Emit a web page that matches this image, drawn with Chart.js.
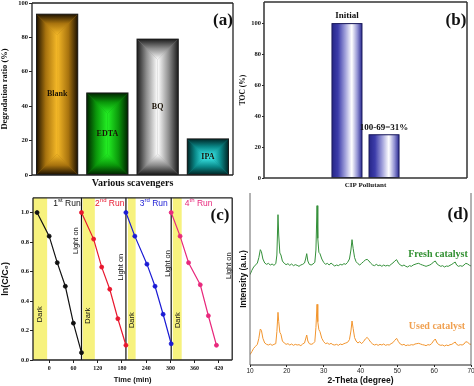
<!DOCTYPE html>
<html>
<head>
<meta charset="utf-8">
<script src="https://cdn.jsdelivr.net/npm/chart.js@4.4.1/dist/chart.umd.min.js"></script>
<style>
  body { margin: 0; background: #fff; }
  .panel { position: absolute; width: 237px; height: 193px; }
</style>
</head>
<body>
<div class="panel" style="left:0;top:0"><canvas id="scav" width="237" height="193"></canvas></div>
<div class="panel" style="left:237px;top:0"><canvas id="toc" width="237" height="193"></canvas></div>
<div class="panel" style="left:0;top:193px"><canvas id="runs" width="237" height="193"></canvas></div>
<div class="panel" style="left:237px;top:193px"><canvas id="xrd" width="237" height="193"></canvas></div>
<script>
// (a) scavenger test
const scavengers = ['Blank', 'EDTA', 'BQ', 'IPA']
const degradation = [93.5, 47.7, 79, 21]
const scavTicks = [0, 20, 40, 60, 80, 100]

// (b) TOC removal
const tocLabels = ['Initial', '100-69=31%']
const tocValues = [100, 28]
const tocTicks = [0, 20, 40, 60, 80, 100]

// (c) recycling runs
const run1Time = [-30, 0, 20, 40, 60, 80]
const run1Val = [1.0, 0.84, 0.66, 0.50, 0.25, 0.05]
const run2Time = [80, 110, 130, 150, 170, 190]
const run2Val = [1.0, 0.82, 0.63, 0.48, 0.28, 0.10]
const run3Time = [190, 212, 242, 262, 282, 302]
const run3Val = [1.0, 0.84, 0.65, 0.50, 0.31, 0.11]
const run4Time = [302, 324, 345, 374, 394, 414]
const run4Val = [1.0, 0.84, 0.66, 0.51, 0.30, 0.10]
const timeTicks = [0, 60, 120, 180, 240, 300, 360, 420]
const ratioTicks = [0, 0.2, 0.4, 0.6, 0.8, 1.0]
const runSplits = [80, 190, 302]
const darkBands = [[-40, -5], [83, 113], [195, 214], [306, 328]]

// (d) XRD patterns
const theta = [
  10.0, 10.5, 11.0, 11.5, 12.0, 12.4, 12.8, 13.1, 13.5, 14.0,
  14.5, 15.0, 15.5, 16.0, 16.5, 17.0, 17.3, 17.6, 17.8, 18.1,
  18.4, 18.8, 19.3, 19.8, 20.3, 20.8, 21.3, 21.8, 22.3, 22.8,
  23.3, 23.8, 24.3, 24.8, 25.1, 25.4, 25.7, 26.1, 26.6, 27.1,
  27.6, 27.9, 28.2, 28.4, 28.7, 29.0, 29.5, 30.0, 30.5, 31.0,
  31.5, 32.0, 32.5, 33.0, 33.5, 34.0, 34.5, 35.0, 35.5, 36.0,
  36.5, 37.0, 37.4, 37.7, 38.0, 38.4, 38.8, 39.3, 39.8, 40.3,
  40.8, 41.3, 41.8, 42.3, 42.8, 43.3, 43.8, 44.3, 44.8, 45.3,
  45.8, 46.3, 46.8, 47.3, 47.8, 48.3, 48.8, 49.3, 49.8, 50.3,
  50.8, 51.3, 51.8, 52.3, 52.8, 53.3, 53.8, 54.3, 54.8, 55.3,
  55.8, 56.3, 56.8, 57.3, 57.8, 58.3, 58.8, 59.3, 59.8, 60.3,
  60.8, 61.3, 61.8, 62.3, 62.8, 63.3, 63.8, 64.3, 64.8, 65.3,
  65.7, 66.1, 66.6, 67.1, 67.6, 68.1, 68.6, 69.1, 69.6, 70.0
]
const freshCounts = [
  271, 284, 294, 300, 306, 322, 346, 340, 318, 306,
  302, 305, 300, 303, 299, 304, 330, 451, 390, 336,
  330, 312, 305, 301, 304, 299, 303, 298, 301, 299,
  296, 300, 302, 306, 318, 334, 312, 302, 300, 303,
  308, 345, 478, 380, 338, 334, 318, 308, 302, 305,
  300, 306, 301, 297, 300, 298, 302, 300, 304, 302,
  308, 318, 345, 376, 350, 322, 310, 304, 300, 305,
  310, 315, 317, 312, 305, 300, 298, 302, 298, 300,
  296, 300, 297, 299, 297, 302, 306, 312, 316, 306,
  300, 297, 300, 296, 294, 298, 296, 300, 302, 304,
  305, 302, 300, 298, 296, 298, 300, 303, 309, 312,
  303, 299, 296, 298, 294, 297, 296, 299, 302, 306,
  309, 300, 296, 298, 296, 300, 305, 303, 299, 297
]
const usedCounts = [
  31, 40, 50, 56, 62, 80, 108, 104, 80, 66,
  62, 60, 63, 59, 62, 64, 100, 158, 130, 98,
  92, 72, 66, 62, 64, 60, 63, 59, 62, 60,
  61, 58, 63, 66, 78, 90, 72, 64, 62, 64,
  70, 112, 182, 130, 106, 100, 80, 70, 64, 66,
  62, 65, 61, 60, 62, 59, 63, 61, 64, 66,
  68, 76, 102, 132, 110, 82, 72, 66, 70, 64,
  70, 78, 83, 76, 68, 63, 60, 62, 59, 62,
  60, 63, 59, 61, 60, 64, 67, 74, 80, 70,
  63, 60, 62, 58, 60, 59, 61, 60, 63, 64,
  65, 63, 61, 60, 58, 61, 60, 64, 72, 78,
  66, 61, 59, 60, 57, 60, 58, 61, 62, 66,
  69, 62, 59, 61, 60, 63, 70, 68, 63, 62
]
const thetaTicks = [10, 20, 30, 40, 50, 60, 70]

const SERIF = '"Liberation Serif", "Times New Roman", serif'
const SANS = '"Liberation Sans", Arial, sans-serif'

Chart.defaults.font.family = SERIF
Chart.defaults.color = '#111'
Chart.defaults.animation = false
Chart.defaults.plugins.legend.display = false
Chart.defaults.plugins.tooltip.enabled = false

const font = (size, family = SERIF, weight = 'bold') => ({ family, size, weight })

// pin an axis to a fixed thickness so the plot areas line up with the figure
const fixSize = size => scale => {
  if (scale.isHorizontal()) scale.height = size
  else scale.width = size
  scale.paddingTop = scale.paddingBottom = scale.paddingLeft = scale.paddingRight = 0
}
const useTicks = values => scale => { scale.ticks = values.map(value => ({ value })) }

const frame = (id, sides, color, width) => ({
  id,
  afterDraw(chart) {
    const { ctx, chartArea: a } = chart
    const seg = {
      t: [a.left, a.top, a.right, a.top],
      b: [a.left, a.bottom, a.right, a.bottom],
      l: [a.left, a.top, a.left, a.bottom],
      r: [a.right, a.top, a.right, a.bottom]
    }
    ctx.save()
    ctx.strokeStyle = color
    ctx.lineWidth = width
    ctx.beginPath()
    for (const s of sides) {
      const [x1, y1, x2, y2] = seg[s]
      ctx.moveTo(x1, y1)
      ctx.lineTo(x2, y2)
    }
    ctx.stroke()
    ctx.restore()
  }
})

const tag = (text, x, y) => ({
  id: 'tag',
  afterDraw(chart) {
    const { ctx } = chart
    ctx.save()
    ctx.font = `bold 17px ${SERIF}`
    ctx.fillStyle = '#111'
    ctx.textAlign = 'center'
    ctx.textBaseline = 'middle'
    ctx.fillText(text, x, y)
    ctx.restore()
  }
})

// y tick labels written from the y scale after the chart is drawn
const yLabels = (gap) => ({
  id: 'yLabels',
  afterDraw(chart) {
    const { ctx, scales: { y } } = chart
    ctx.save()
    ctx.font = `bold 6.5px ${SERIF}`
    ctx.fillStyle = '#111'
    ctx.textAlign = 'right'
    ctx.textBaseline = 'middle'
    for (const t of y.ticks) ctx.fillText(String(t.value), y.right - gap, y.getPixelForValue(t.value))
    ctx.restore()
  }
})

// ---------- (a) ----------
const scavShades = [
  ['#1e1200', '#a8730e', '#f5b928'],
  ['#002400', '#0a960a', '#24f024'],
  ['#1c1c1c', '#8c8c8c', '#ffffff'],
  ['#002626', '#0a8a8a', '#40f0f0']
]

const boxShade = {
  id: 'boxShade',
  afterDatasetsDraw(chart) {
    const { ctx } = chart
    chart.getDatasetMeta(0).data.forEach((bar, i) => {
      const [edge, mid, lit] = scavShades[i]
      const l = bar.x - bar.width / 2, r = bar.x + bar.width / 2
      const t = bar.y, b = bar.base
      const rr = Math.min(r - l, b - t) / 2
      const parts = [
        [[[l, t], [r, t], [r - rr, t + rr], [l + rr, t + rr]], [0, t, 0, t + rr]],
        [[[l, b], [r, b], [r - rr, b - rr], [l + rr, b - rr]], [0, b, 0, b - rr]],
        [[[l, t], [l + rr, t + rr], [l + rr, b - rr], [l, b]], [l, 0, l + rr, 0]],
        [[[r, t], [r - rr, t + rr], [r - rr, b - rr], [r, b]], [r, 0, r - rr, 0]]
      ]
      ctx.save()
      for (const [poly, g] of parts) {
        const grad = ctx.createLinearGradient(...g)
        grad.addColorStop(0, edge)
        grad.addColorStop(0.45, mid)
        grad.addColorStop(1, lit)
        ctx.fillStyle = grad
        ctx.beginPath()
        poly.forEach(([x, y], k) => k ? ctx.lineTo(x, y) : ctx.moveTo(x, y))
        ctx.closePath()
        ctx.fill()
      }
      ctx.strokeStyle = '#1a1a1a'
      ctx.lineWidth = 1
      ctx.strokeRect(l, t, r - l, b - t)
      ctx.font = `bold 8px ${SERIF}`
      ctx.fillStyle = '#1a1206'
      ctx.textAlign = 'center'
      ctx.textBaseline = 'middle'
      ctx.fillText(scavengers[i], bar.x, (t + b) / 2)
      ctx.restore()
    })
  }
}

new Chart(document.getElementById('scav'), {
  type: 'bar',
  data: {
    labels: scavengers,
    datasets: [{
      data: degradation,
      backgroundColor: scavShades.map(s => s[1]),
      borderWidth: 0,
      categoryPercentage: 1,
      barPercentage: 0.82
    }]
  },
  options: {
    responsive: false,
    layout: { padding: { top: 3, right: 4 } },
    scales: {
      x: {
        afterFit: fixSize(18),
        ticks: { display: false },
        grid: { display: false },
        border: { display: false },
        title: { display: true, text: 'Various scavengers', font: font(10), padding: { top: 0, bottom: 4 } }
      },
      y: {
        min: 0, max: 100,
        afterFit: fixSize(32),
        afterBuildTicks: useTicks(scavTicks),
        ticks: { display: false },
        grid: { drawOnChartArea: false, tickLength: 3, color: '#222' },
        border: { display: false },
        title: { display: true, text: 'Degradation ratio (%)', font: font(8.5), padding: 0 }
      }
    }
  },
  plugins: [boxShade, yLabels(4), frame('box', 'tblr', '#222', 1.3), tag('(a)', 223, 21)]
})

// ---------- (b) ----------
const cylinder = {
  id: 'cylinder',
  afterDatasetsDraw(chart) {
    const { ctx } = chart
    chart.data.datasets.forEach((ds, i) => {
      const bar = chart.getDatasetMeta(i).data[0]
      const l = bar.x - bar.width / 2, r = bar.x + bar.width / 2
      const t = bar.y, b = bar.base
      const grad = ctx.createLinearGradient(l, 0, r, 0)
      grad.addColorStop(0, '#262688')
      grad.addColorStop(0.2, '#3c3caa')
      grad.addColorStop(0.45, '#a4a4dc')
      grad.addColorStop(0.66, '#ffffff')
      grad.addColorStop(0.85, '#9090d2')
      grad.addColorStop(1, '#2a2a92')
      ctx.save()
      ctx.fillStyle = grad
      ctx.fillRect(l, t, r - l, b - t)
      ctx.strokeStyle = '#1c1c5a'
      ctx.lineWidth = 1
      ctx.strokeRect(l, t, r - l, b - t)
      ctx.font = `bold 9px ${SERIF}`
      ctx.fillStyle = '#111'
      ctx.textAlign = 'center'
      ctx.textBaseline = 'bottom'
      ctx.fillText(tocLabels[i], bar.x, t - 3)
      ctx.restore()
    })
  }
}

new Chart(document.getElementById('toc'), {
  type: 'bar',
  data: {
    labels: ['CIP Pollutant'],
    datasets: tocValues.map(v => ({
      data: [v],
      backgroundColor: '#3c3caa',
      borderWidth: 0,
      categoryPercentage: 0.365,
      barPercentage: 0.81
    }))
  },
  options: {
    responsive: false,
    layout: { padding: { top: 2, right: 7 } },
    scales: {
      x: {
        afterFit: fixSize(15),
        ticks: { font: font(7), padding: 3, color: '#111', autoSkip: false },
        grid: { display: false, drawTicks: false },
        border: { display: false }
      },
      y: {
        min: 0, max: 114,
        afterFit: fixSize(27),
        afterBuildTicks: useTicks(tocTicks),
        ticks: { display: false },
        grid: { drawOnChartArea: false, tickLength: 2, color: '#222' },
        border: { display: false },
        title: { display: true, text: 'TOC (%)', font: font(7.5), padding: { top: 1.5, bottom: 0 } }
      }
    }
  },
  plugins: [cylinder, yLabels(3), frame('box', 'tblr', '#333', 1.5), tag('(b)', 219, 21)]
})

// ---------- (c) ----------
const runColors = ['#111111', '#e8172e', '#1b1bd4', '#e8287c']
const runNames = [['1', 'st'], ['2', 'nd'], ['3', 'rd'], ['4', 'th']]
const runNameAt = [[44, 1.06], [150, 1.06], [259, 1.06], [370, 1.06]]
const lightOnAt = [[66, 0.81], [177, 0.63], [294, 0.655], [445, 0.64]]
const darkAt = [[-22, 0.31], [96, 0.30], [206, 0.27], [318, 0.27]]
const runs = [[run1Time, run1Val], [run2Time, run2Val], [run3Time, run3Val], [run4Time, run4Val]]

const runDecor = {
  id: 'runDecor',
  beforeDatasetsDraw(chart) {
    const { ctx, chartArea: a, scales: { x } } = chart
    ctx.save()
    ctx.fillStyle = '#f7f27e'
    for (const [s, e] of darkBands) {
      const x1 = Math.max(x.getPixelForValue(s), a.left)
      ctx.fillRect(x1, a.top, x.getPixelForValue(e) - x1, a.bottom - a.top)
    }
    ctx.strokeStyle = '#111'
    ctx.lineWidth = 1.2
    ctx.beginPath()
    for (const t of runSplits) {
      const px = x.getPixelForValue(t)
      ctx.moveTo(px, a.top)
      ctx.lineTo(px, a.bottom)
    }
    ctx.stroke()
    ctx.restore()
  },
  afterDatasetsDraw(chart) {
    const { ctx, scales: { x, y } } = chart
    ctx.save()
    ctx.textBaseline = 'middle'
    runNames.forEach(([num, sup], i) => {
      const px = x.getPixelForValue(runNameAt[i][0]), py = y.getPixelForValue(runNameAt[i][1])
      ctx.font = `8.5px ${SANS}`
      const w1 = ctx.measureText(num).width, w3 = ctx.measureText(' Run').width
      ctx.font = `6px ${SANS}`
      const w2 = ctx.measureText(sup).width
      const cx = px - (w1 + w2 + w3) / 2
      ctx.fillStyle = runColors[i]
      ctx.textAlign = 'left'
      ctx.font = `8.5px ${SANS}`
      ctx.fillText(num, cx, py)
      ctx.font = `6px ${SANS}`
      ctx.fillText(sup, cx + w1, py - 3)
      ctx.font = `8.5px ${SANS}`
      ctx.fillText(' Run', cx + w1 + w2, py)
    })
    ctx.fillStyle = '#111'
    ctx.textAlign = 'center'
    const vertical = (text, [t, v]) => {
      ctx.save()
      ctx.translate(x.getPixelForValue(t), y.getPixelForValue(v))
      ctx.rotate(-Math.PI / 2)
      ctx.fillText(text, 0, 0)
      ctx.restore()
    }
    ctx.font = `7.5px ${SANS}`
    lightOnAt.forEach(p => vertical('Light on', p))
    darkAt.forEach(p => vertical('Dark', p))
    ctx.restore()
  }
}

new Chart(document.getElementById('runs'), {
  type: 'line',
  data: {
    datasets: runs.map(([t, v], i) => ({
      data: t.map((tx, j) => ({ x: tx, y: v[j] })),
      borderColor: runColors[i],
      backgroundColor: runColors[i],
      borderWidth: 1.2,
      pointRadius: 2,
      pointBorderWidth: 0.8,
      tension: 0
    }))
  },
  options: {
    responsive: false,
    layout: { padding: { top: 1, right: 1 } },
    scales: {
      x: {
        type: 'linear', min: -40, max: 453,
        afterFit: fixSize(26),
        afterBuildTicks: useTicks(timeTicks),
        ticks: { font: font(6), padding: 2, color: '#111', autoSkip: false, callback: v => String(v) },
        grid: { drawOnChartArea: false, tickLength: 3, color: '#222' },
        border: { display: false },
        title: { display: true, text: 'Time (min)', font: font(7.5, SANS), padding: { top: 0, bottom: 2 } }
      },
      y: {
        min: 0, max: 1.1,
        afterFit: fixSize(33),
        afterBuildTicks: useTicks(ratioTicks),
        ticks: { font: font(6.5), padding: 1, color: '#111', autoSkip: false, callback: v => v.toFixed(1) },
        grid: { drawOnChartArea: false, tickLength: 3, color: '#222' },
        border: { display: false },
        title: { display: true, text: 'ln(C/C₀)', font: font(9, SANS), padding: 0 }
      }
    }
  },
  plugins: [runDecor, frame('box', 'tblr', '#222', 1.3), tag('(c)', 220, 23)]
})

// ---------- (d) ----------
const patternNotes = {
  id: 'patternNotes',
  afterDatasetsDraw(chart) {
    const { ctx } = chart
    ctx.save()
    ctx.font = `bold 10px ${SERIF}`
    ctx.textAlign = 'center'
    ctx.textBaseline = 'middle'
    ctx.fillStyle = '#2f8f2f'
    ctx.fillText('Fresh catalyst', 201, 61)
    ctx.fillStyle = '#f0a050'
    ctx.fillText('Used catalyst', 200, 133)
    ctx.restore()
  }
}

new Chart(document.getElementById('xrd'), {
  type: 'line',
  data: {
    datasets: [
      { data: theta.map((t, i) => ({ x: t, y: freshCounts[i] })), borderColor: '#34903a' },
      { data: theta.map((t, i) => ({ x: t, y: usedCounts[i] })), borderColor: '#f2952e' }
    ].map(ds => ({ ...ds, borderWidth: 1, pointRadius: 0, tension: 0 }))
  },
  options: {
    responsive: false,
    layout: { padding: { top: 0, right: 3 } },
    scales: {
      x: {
        type: 'linear', min: 10, max: 70,
        afterFit: fixSize(21),
        afterBuildTicks: useTicks(thetaTicks),
        ticks: { font: font(6.5, SANS, 'normal'), padding: 0, color: '#222', autoSkip: false, callback: v => String(v) },
        grid: { drawOnChartArea: false, tickLength: 2, color: '#222' },
        border: { display: false },
        title: { display: true, text: '2-Theta (degree)', font: font(8.5, SANS), padding: 0 }
      },
      y: {
        min: 0, max: 516,
        afterFit: fixSize(13),
        ticks: { display: false },
        grid: { display: false },
        border: { display: false },
        title: { display: true, text: 'Intensity (a.u.)', font: font(8.5, SANS), padding: { top: 1.5, bottom: 0 } }
      }
    }
  },
  plugins: [patternNotes, frame('sides', 'lr', '#666', 1), frame('base', 'b', '#222', 1.2), tag('(d)', 221, 22)]
})
</script>
</body>
</html>
